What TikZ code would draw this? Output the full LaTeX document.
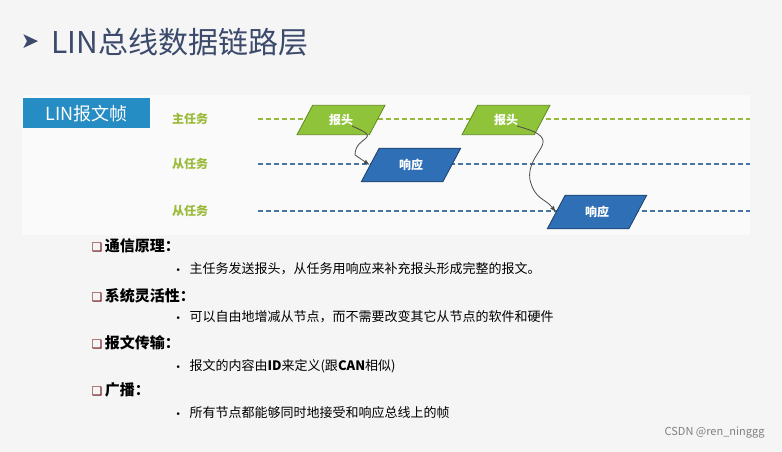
\documentclass[tikz,border=0pt]{standalone}
\usepackage{fontspec}
\setmainfont{Noto Sans CJK SC}
\newfontfamily\djv{DejaVu Sans}
\usetikzlibrary{shapes.geometric,arrows.meta}
\definecolor{titc}{HTML}{3B4A6B}
\definecolor{gr}{HTML}{8FC43A}
\definecolor{grd}{HTML}{5E8A1E}
\definecolor{bl}{HTML}{2E6FB5}
\definecolor{bld}{HTML}{1E3F6A}
\definecolor{lab}{HTML}{9ABA3A}
\tikzset{
 para/.style={trapezium,trapezium left angle=62,trapezium right angle=118,minimum width=88pt,minimum height=21pt,inner sep=1pt,draw,line width=0.8pt,text=white,font=\bfseries\fontsize{12}{12}\selectfont},
 hdr/.style={para,fill=gr,draw=grd},
 rsp/.style={para,fill=bl,draw=bld,minimum width=100pt,minimum height=23pt},
 lbl/.style={text=lab,font=\bfseries\fontsize{12}{12}\selectfont},
 dl/.style={dashed,line width=1.3pt,dash pattern=on 5pt off 3pt},
 head/.style={anchor=west,font=\bfseries\fontsize{15}{15}\selectfont},
 item/.style={anchor=west,font=\fontsize{13}{13}\selectfont},
 cur/.style={-{Latex[length=6pt]},line width=0.8pt,black!70}
}
\newcommand\bx{{\djv\fontsize{12}{12}\selectfont\color{red!40!black}❑}\,}
\begin{document}
\begin{tikzpicture}[x=1pt,y=-1pt]
\fill[gray!8] (0,0) rectangle (782,452);
\useasboundingbox (0,0) rectangle (782,452);
\fill[white!96!gray] (22,95) rectangle (750,235);
\node[text=titc,font=\djv\fontsize{22}{22}\selectfont] (ar) at (30,42) {➤};
\node[anchor=west,text=titc,font=\fontsize{30}{30}\selectfont] (tt) at (48,42) {LIN总线数据链路层};
\node[fill=bl!80!cyan,text=white,minimum width=127pt,minimum height=30pt,anchor=north west,inner sep=0pt,font=\fontsize{18}{18}\selectfont] (box) at (23,98) {LIN报文帧};
\node[lbl] (m) at (190,119) {主任务};
\node[lbl] (s1) at (190,164) {从任务};
\node[lbl] (s2) at (190,211) {从任务};
\coordinate (e0) at (750,119);\coordinate (e1) at (750,164);\coordinate (e2) at (750,211);
\draw[dl,lab] (258,119) -- (e0);
\draw[dl,bl!70!gray] (258,164) -- (e1);
\draw[dl,bl!70!gray] (258,211) -- (e2);
\node[hdr] (h1) at (341,120) {报头};
\node[hdr] (h2) at (506,120) {报头};
\node[rsp] (r1) at (411,165) {响应};
\node[rsp] (r2) at (597,212) {响应};
\draw[cur] (h1.south east) ++(-4,-9) coordinate (c1) (c1) .. controls (385,140) and (355,135) .. (355,155) -- (r1.west) ;
\draw[cur] (h2.south east) ++(-4,-9) coordinate (c2) (c2) .. controls (570,140) and (525,150) .. (530,180) .. controls (535,200) and (545,198) .. (r2.west);
\node[head] (b1) at (88,246) {\bx 通信原理：};
\node[item] (t1) at (172,269) {{\djv\small •}\ \ \ 主任务发送报头，从任务用响应来补充报头形成完整的报文。};
\node[head] (b2) at (88,296) {\bx 系统灵活性：};
\node[item] (t2) at (172,317) {{\djv\small •}\ \ \ 可以自由地增减从节点，而不需要改变其它从节点的软件和硬件};
\node[head] (b3) at (88,343) {\bx 报文传输：};
\node[item] (t3) at (172,366) {{\djv\small •}\ \ \ 报文的内容由\textbf{ID}来定义(跟\textbf{CAN}相似)};
\node[head] (b4) at (88,390) {\bx 广播：};
\node[item] (t4) at (172,413) {{\djv\small •}\ \ \ 所有节点都能够同时地接受和响应总线上的帧};
\node[anchor=east,text=gray,font=\fontsize{11}{11}\selectfont] (w) at (768,433) {CSDN @ren\_ninggg};
\end{tikzpicture}
\end{document}
